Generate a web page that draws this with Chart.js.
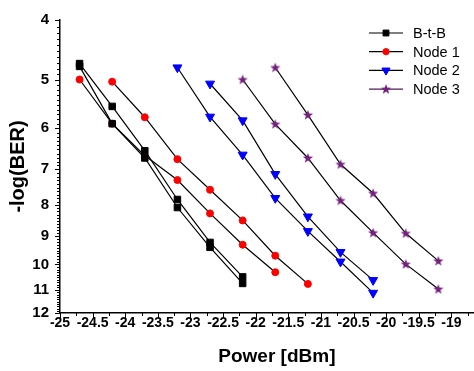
<!DOCTYPE html>
<html>
<head>
<meta charset="utf-8">
<script src="https://cdn.jsdelivr.net/npm/chart.js@4.4.1/dist/chart.umd.min.js"></script>
<style>
    html, body { margin: 0; padding: 0; background: #fff; overflow: hidden; }
    canvas { display: block; }
</style>
</head>
<body>
<canvas id="berChart" width="500" height="371"></canvas>
<script>
// potencia (dBm) y -log(BER) de cada curva
const powerBtB = [-24.7, -24.2, -23.7, -23.2, -22.7, -22.2];
const btbA = [4.71, 5.53, 6.53, 7.84, 9.21, 10.48];
const btbB = [4.76, 5.90, 6.71, 8.08, 9.38, 10.74];

const powerNode1A = [-24.2, -23.7, -23.2, -22.7, -22.2, -21.7, -21.2];
const node1A = [5.04, 5.76, 6.74, 7.56, 8.48, 9.68, 10.76];
const powerNode1B = [-24.7, -24.2, -23.7, -23.2, -22.7, -22.2, -21.7];
const node1B = [5.00, 5.90, 6.65, 7.29, 8.26, 9.29, 10.30];

const powerNode2A = [-23.2, -22.7, -22.2, -21.7, -21.2, -20.7, -20.2];
const node2A = [4.78, 5.75, 6.63, 7.80, 8.83, 9.90, 11.13];
const powerNode2B = [-22.7, -22.2, -21.7, -21.2, -20.7, -20.2];
const node2B = [5.08, 5.83, 7.13, 8.36, 9.55, 10.61];

const powerNode3A = [-21.7, -21.2, -20.7, -20.2, -19.7, -19.2];
const node3A = [4.78, 5.71, 6.87, 7.66, 8.90, 9.87];
const powerNode3B = [-22.2, -21.7, -21.2, -20.7, -20.2, -19.7, -19.2];
const node3B = [5.00, 5.91, 6.71, 7.87, 8.88, 9.99, 10.97];

const seriesNames = ["B-t-B", "Node 1", "Node 2", "Node 3"];
const xTicks = [-25, -24.5, -24, -23.5, -23, -22.5, -22, -21.5, -21, -20.5, -20, -19.5, -19];
const yTicks = [4, 5, 6, 7, 8, 9, 10, 11, 12];

const FONT = "'Liberation Sans', Arial, sans-serif";

// estrella rellena de 5 puntas (Chart.js no la trae)
function hacerEstrella(color) {
    const c = document.createElement("canvas");
    c.width = 12;
    c.height = 12;
    const g = c.getContext("2d");
    g.fillStyle = color;
    g.beginPath();
    for (let i = 0; i < 10; i++) {
        const r = i % 2 === 0 ? 5.4 : 2.2;
        const a = -Math.PI / 2 + i * Math.PI / 5;
        const px = 6 + r * Math.cos(a);
        const py = 6.4 + r * Math.sin(a);
        if (i === 0) g.moveTo(px, py); else g.lineTo(px, py);
    }
    g.closePath();
    g.fill();
    return c;
}

const estilos = [
    { color: "#000000", pointStyle: "rect", radius: 4.6, rotation: 0, legendLine: "#000000" },
    { color: "#ff0000", pointStyle: "circle", radius: 3.5, rotation: 0, legendLine: "#000000" },
    { color: "#0000ff", pointStyle: "triangle", radius: 5.2, rotation: 180, legendLine: "#000000" },
    { color: "#74207c", pointStyle: hacerEstrella("#74207c"), radius: 5, rotation: 0, legendLine: "#4a1f55" }
];

const curvas = [
    [0, powerBtB, btbA], [0, powerBtB, btbB],
    [1, powerNode1A, node1A], [1, powerNode1B, node1B],
    [2, powerNode2A, node2A], [2, powerNode2B, node2B],
    [3, powerNode3A, node3A], [3, powerNode3B, node3B]
];

const datasets = curvas.map(([s, xs, ys]) => {
    const e = estilos[s];
    return {
        label: seriesNames[s],
        data: xs.map((x, i) => ({ x, y: ys[i] })),
        borderColor: "#000",
        borderWidth: 1.2,
        fill: false,
        tension: 0,
        pointStyle: e.pointStyle,
        pointRadius: e.radius,
        pointRotation: e.rotation,
        pointBackgroundColor: e.color,
        pointBorderColor: e.color,
        pointBorderWidth: 1
    };
});

// marcas menores de los ejes y leyenda dentro del area
const extras = {
    id: "extras",
    afterDraw(chart) {
        const ctx = chart.ctx;
        const sx = chart.scales.x, sy = chart.scales.y;
        const area = chart.chartArea;
        ctx.save();
        ctx.strokeStyle = "#000";
        ctx.lineWidth = 1;

        for (let k = 0; ; k++) {
            const v = -25 + k * 0.25;
            if (v > sx.max) break;
            const px = Math.round(sx.getPixelForValue(v)) + 0.5;
            const len = k % 2 === 0 ? 5 : 3;
            ctx.beginPath();
            ctx.moveTo(px, area.bottom);
            ctx.lineTo(px, area.bottom + len);
            ctx.stroke();
        }
        for (let k = 40; k <= 120; k++) {
            const py = Math.round(sy.getPixelForValue(k / 10)) + 0.5;
            const len = k % 10 === 0 ? 5 : 3;
            ctx.beginPath();
            ctx.moveTo(area.left, py);
            ctx.lineTo(area.left - len, py);
            ctx.stroke();
        }

        // leyenda
        const lx = 369, ly = 33, paso = 18.7;
        ctx.font = "14.5px " + FONT;
        ctx.textBaseline = "middle";
        ctx.textAlign = "left";
        seriesNames.forEach((name, i) => {
            const e = estilos[i];
            const y = ly + i * paso;
            ctx.strokeStyle = e.legendLine;
            ctx.lineWidth = 1.2;
            ctx.beginPath();
            ctx.moveTo(lx, y);
            ctx.lineTo(lx + 34, y);
            ctx.stroke();
            ctx.fillStyle = e.color;
            ctx.strokeStyle = e.color;
            ctx.lineWidth = 1;
            Chart.helpers.drawPoint(ctx, {
                pointStyle: e.pointStyle,
                radius: e.radius * 0.9,
                rotation: e.rotation,
                borderWidth: 1
            }, lx + 17, y);
            ctx.fillStyle = "#000";
            ctx.fillText(name, lx + 44, y + 1);
        });
        ctx.restore();
    }
};

new Chart(document.getElementById("berChart"), {
    type: "line",
    data: { datasets },
    options: {
        responsive: false,
        animation: false,
        layout: { padding: { top: 10, right: 0, left: 0, bottom: 0 } },
        plugins: {
            legend: { display: false },
            tooltip: { enabled: false }
        },
        scales: {
            x: {
                type: "linear",
                min: -25,
                max: -18.35,
                afterBuildTicks: scale => { scale.ticks = xTicks.map(v => ({ value: v })); },
                afterFit: scale => { scale.height = 58; },
                grid: { display: false, drawTicks: false },
                border: { display: true, color: "#000", width: 1.5 },
                ticks: {
                    autoSkip: false,
                    maxRotation: 0,
                    padding: 2,
                    color: "#000",
                    font: { family: FONT, size: 14, weight: "bold" },
                    callback: v => String(v)
                },
                title: {
                    display: true,
                    text: "Power [dBm]",
                    color: "#000",
                    font: { family: FONT, size: 19, weight: "bold" },
                    padding: { top: 0, bottom: 3 }
                }
            },
            y: {
                type: "logarithmic",
                reverse: true,
                min: 4,
                max: 12,
                afterBuildTicks: scale => { scale.ticks = yTicks.map(v => ({ value: v })); },
                afterFit: scale => { scale.width = 60; },
                grid: { display: false, drawTicks: false },
                border: { display: true, color: "#000", width: 1.5 },
                ticks: {
                    autoSkip: false,
                    padding: 11,
                    color: "#000",
                    font: { family: FONT, size: 15, weight: "bold" },
                    callback: v => String(v)
                },
                title: {
                    display: true,
                    text: "-log(BER)",
                    color: "#000",
                    font: { family: FONT, size: 20, weight: "bold" },
                    padding: { top: 6, bottom: 0 }
                }
            }
        }
    },
    plugins: [extras]
});
</script>
</body>
</html>
